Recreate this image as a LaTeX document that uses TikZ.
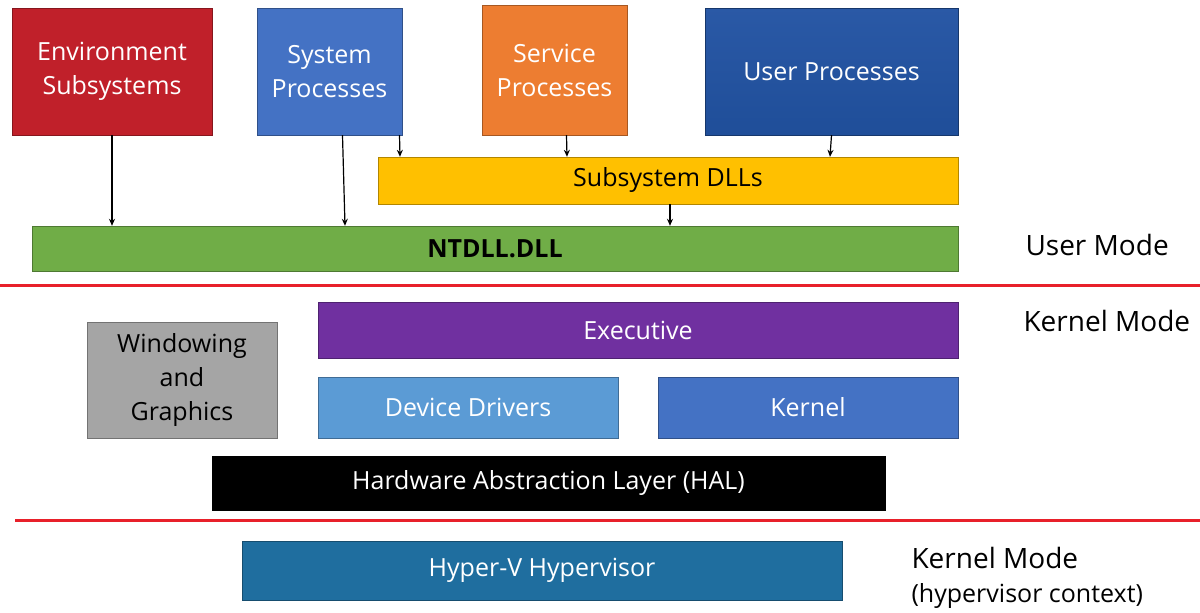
\documentclass[tikz,border=0pt]{standalone}
\usepackage{fontspec}
\setmainfont{Open Sans}
\usetikzlibrary{arrows.meta}
\definecolor{cred}{HTML}{C0202A}
\definecolor{cblue}{HTML}{4472C4}
\definecolor{corange}{HTML}{ED7D31}
\definecolor{cdblue}{HTML}{1F4E99}
\definecolor{cyellow}{HTML}{FFC000}
\definecolor{cgreen}{HTML}{70AD47}
\definecolor{cgray}{HTML}{A5A5A5}
\definecolor{cpurple}{HTML}{7030A0}
\definecolor{clblue}{HTML}{5B9BD5}
\definecolor{chyper}{HTML}{1F6E9F}
\definecolor{cline}{HTML}{E8202A}
\begin{document}
\begin{tikzpicture}[x=1pt,y=-1pt,
  box/.style={draw=#1!70!black,fill=#1,text=white,align=center,font=\fontsize{25}{34}\selectfont,inner sep=0pt},
  lbl/.style={anchor=west,font=\fontsize{28}{34}\selectfont,align=left},
  arr/.style={-{Stealth[length=7pt,width=6pt]},line width=1.2pt}]
\useasboundingbox (0,0) rectangle (1200,613);
\node[box=cred,minimum width=200pt,minimum height=127pt] (env) at (112,71.5) {Environment\\Subsystems};
\node[box=cblue,minimum width=145pt,minimum height=127pt] (sys) at (329.5,71.5) {System\\Processes};
\node[box=corange,minimum width=145pt,minimum height=130pt] (svc) at (554.5,70) {Service\\Processes};
\node[box=cdblue,top color=cdblue!70!cblue,bottom color=cdblue,minimum width=253pt,minimum height=127pt] (usr) at (831.5,71.5) {User Processes};
\node[box=cyellow,text=black,minimum width=580pt,minimum height=47pt] (dll) at (668,180.5) {Subsystem DLLs};
\node[box=cgreen,text=black,minimum width=926pt,minimum height=45pt,font=\fontsize{25}{30}\selectfont\bfseries] (nt) at (495,248.5) {NTDLL.DLL};
\node[lbl] (um) at (1022,245) {User Mode};
\draw[cline,line width=3pt] (0,285) coordinate (l1a) -- (1200,285) coordinate (l1b);
\node[lbl] (km) at (1020,321) {Kernel Mode};
\node[box=cgray,text=black,minimum width=190pt,minimum height=116pt] (win) at (182,380) {Windowing\\and\\Graphics};
\node[box=cpurple,minimum width=640pt,minimum height=56pt] (exe) at (638,330) {Executive};
\node[box=clblue,minimum width=300pt,minimum height=61pt] (dd) at (468,407.5) {Device Drivers};
\node[box=cblue,minimum width=300pt,minimum height=61pt] (ker) at (808,407.5) {Kernel};
\node[box=black,minimum width=673pt,minimum height=54pt] (hal) at (548.5,483) {Hardware Abstraction Layer (HAL)};
\draw[cline,line width=3pt] (15,520) coordinate (l2a) -- (1200,520) coordinate (l2b);
\node[box=chyper,minimum width=600pt,minimum height=59pt] (hv) at (542,570.5) {Hyper-V Hypervisor};
\node[lbl] (kh) at (908,578) {Kernel Mode\\{\fontsize{25}{30}\selectfont(hypervisor context)}};
\draw[arr] (env.south) -- (env.south |- nt.north);
\draw[arr] ([xshift=13pt]sys.south) -- ([xshift=-150pt]nt.north);
\draw[arr] ([xshift=70pt]sys.south) -- ([xshift=-268pt]dll.north);
\draw[arr] ([xshift=12pt]svc.south) -- ([xshift=-101pt]dll.north);
\draw[arr] (usr.south) -- ([xshift=162pt]dll.north);
\draw[arr] ([xshift=2pt]dll.south) -- ([xshift=175pt]nt.north);
\end{tikzpicture}
\end{document}
